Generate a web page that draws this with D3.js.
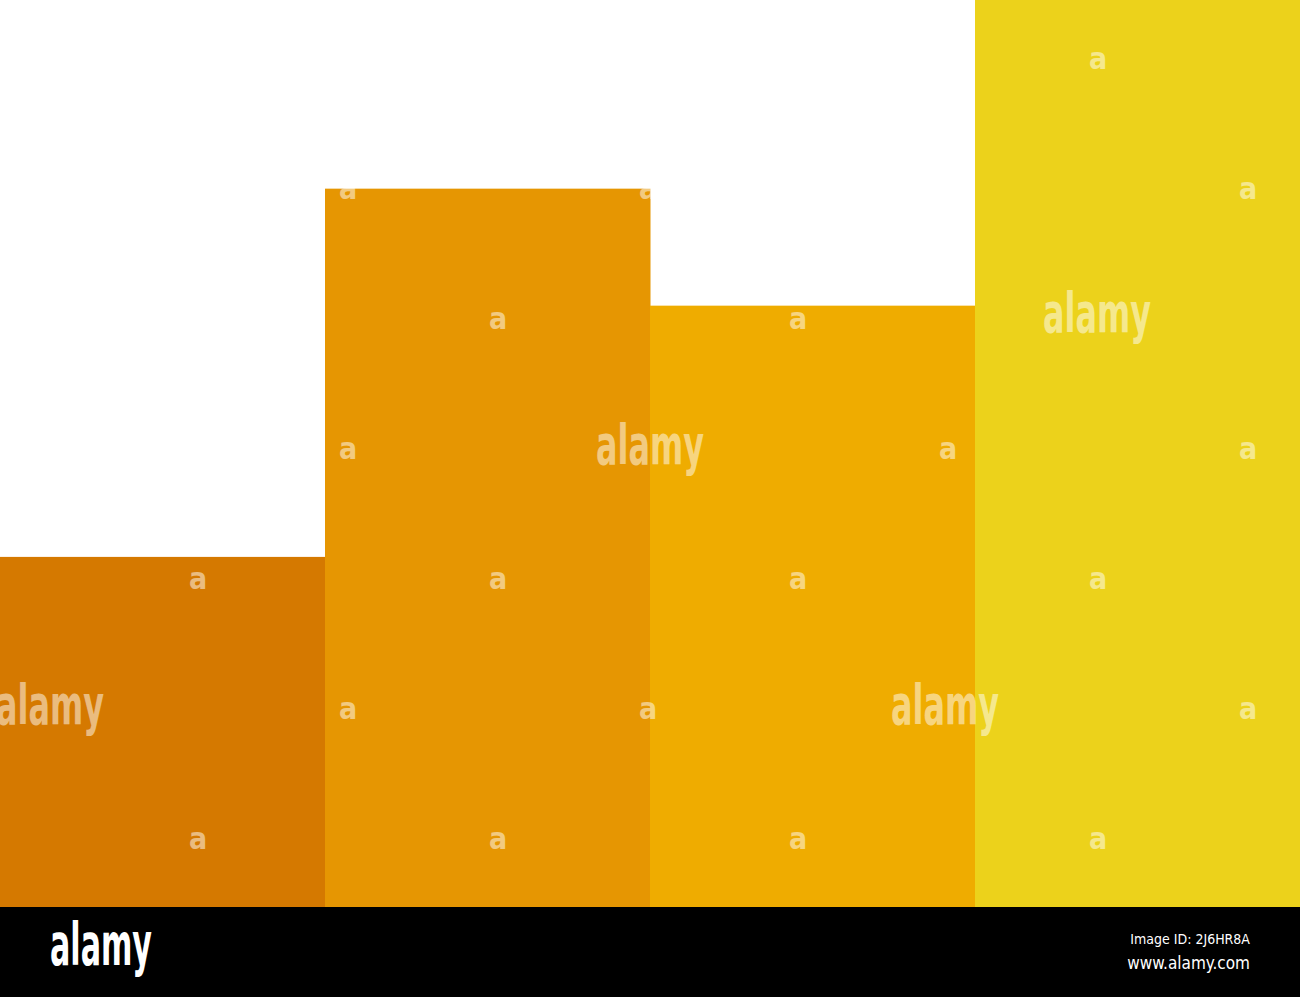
<!DOCTYPE html>
<html>
<head>
<meta charset="utf-8">
<script src="https://cdn.jsdelivr.net/npm/d3@7"></script>
<style>
  body { margin: 0; background: #fff; }
  svg { display: block; }
</style>
</head>
<body>
<script>
    // data
    const categories = ['A', 'B', 'C', 'D'];
    const values = [38.6, 79.2, 66.3, 100];
    const barColors = ['#d57900', '#e69602', '#efac00', '#ecd21b'];

    // watermark grid
    const markCols = [198, 348, 498, 648, 798, 948, 1098, 1248];
    const markRows = [60, 190, 320, 450, 580, 710, 840];
    const bigMarks = [[1097, 320], [650, 452], [50, 712], [945, 712]];

    const measurements = {
        width: 1300,
        height: 997,
        plotBottom: 907
    };

    let svg = d3.select('body')
        .append('svg')
        .attr('width', measurements.width)
        .attr('height', measurements.height);

    let x = d3.scaleBand()
        .domain(categories)
        .range([0, measurements.width])
        .padding(0);

    let y = d3.scaleLinear()
        .domain([0, 100])
        .range([measurements.plotBottom, 0]);

    // bars
    svg.append('g')
        .selectAll('rect')
        .data(values)
        .enter()
        .append('rect')
        .attr('x', (d, i) => x(categories[i]))
        .attr('y', d => y(d))
        .attr('width', x.bandwidth() + 0.5)
        .attr('height', d => y(0) - y(d))
        .attr('fill', (d, i) => barColors[i]);

    // watermark letters (white, semi transparent; invisible on white)
    let marks = [];
    markRows.forEach((ry, ri) => {
        markCols.forEach((cx, ci) => {
            if ((ci % 2) !== (ri % 2)) return;
            let nearBig = bigMarks.some(b => Math.abs(b[0] - cx) < 60 && Math.abs(b[1] - ry) < 30);
            if (!nearBig) marks.push([cx, ry]);
        });
    });

    let wm = svg.append('g')
        .attr('fill', '#fff')
        .attr('fill-opacity', 0.5)
        .attr('font-family', '"Liberation Sans Narrow", "DejaVu Sans Condensed", sans-serif')
        .attr('font-weight', 'bold')
        .attr('text-anchor', 'middle');

    wm.selectAll('text.small')
        .data(marks)
        .enter()
        .append('text')
        .attr('class', 'small')
        .attr('x', d => d[0])
        .attr('y', d => d[1] + 9)
        .attr('font-size', 30)
        .text('a');

    wm.selectAll('text.big')
        .data(bigMarks)
        .enter()
        .append('text')
        .attr('class', 'big')
        .attr('x', d => d[0])
        .attr('y', d => d[1] + 12)
        .attr('font-size', 56)
        .attr('textLength', 108)
        .attr('lengthAdjust', 'spacingAndGlyphs')
        .text('alamy');

    // bottom band
    svg.append('rect')
        .attr('x', 0)
        .attr('y', measurements.plotBottom)
        .attr('width', measurements.width)
        .attr('height', measurements.height - measurements.plotBottom)
        .attr('fill', '#000');

    svg.append('text')
        .attr('x', 50)
        .attr('y', 965)
        .attr('fill', '#fff')
        .attr('font-family', '"Liberation Sans Narrow", "DejaVu Sans Condensed", sans-serif')
        .attr('font-weight', 'bold')
        .attr('font-size', 58)
        .attr('textLength', 102)
        .attr('lengthAdjust', 'spacingAndGlyphs')
        .text('alamy');

    svg.append('text')
        .attr('x', 1250)
        .attr('y', 944)
        .attr('text-anchor', 'end')
        .attr('fill', '#fff')
        .attr('font-family', '"DejaVu Sans Condensed", sans-serif')
        .attr('font-size', 14)
        .text('Image ID: 2J6HR8A');

    svg.append('text')
        .attr('x', 1250)
        .attr('y', 969)
        .attr('text-anchor', 'end')
        .attr('fill', '#fff')
        .attr('font-family', '"DejaVu Sans Condensed", sans-serif')
        .attr('font-size', 17)
        .text('www.alamy.com');
</script>
</body>
</html>
